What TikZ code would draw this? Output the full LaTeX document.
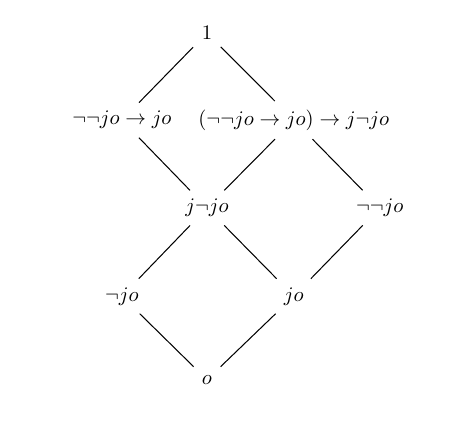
\documentclass[tikz,border=0pt]{standalone}
\begin{document}
\begin{tikzpicture}[lbl/.style={inner sep=4pt}, edge/.style={draw, line width=0.5pt}]
\useasboundingbox (0,0) rectangle (8.05,-7.52);
\node[lbl] (top) at (3.515,-0.56) {$1$};
\node[lbl] (l) at (2.07,-2.04) {$\neg\neg jo \to jo$};
\node[lbl] (r) at (4.99,-2.04) {$(\neg\neg jo \to jo) \to j\neg jo$};
\node[lbl] (m) at (3.515,-3.53) {$j\neg jo$};
\node[lbl] (nn) at (6.45,-3.53) {$\neg\neg jo$};
\node[lbl] (n) at (2.07,-5.03) {$\neg jo$};
\node[lbl] (jo) at (4.99,-5.03) {$jo$};
\node[lbl] (o) at (3.515,-6.45) {$o$};
\draw[edge] (top) -- (l);
\draw[edge] (top) -- (r);
\draw[edge] (l) -- (m);
\draw[edge] (r) -- (m);
\draw[edge] (r) -- (nn);
\draw[edge] (m) -- (n);
\draw[edge] (m) -- (jo);
\draw[edge] (nn) -- (jo);
\draw[edge] (n) -- (o);
\draw[edge] (jo) -- (o);
\end{tikzpicture}
\end{document}
